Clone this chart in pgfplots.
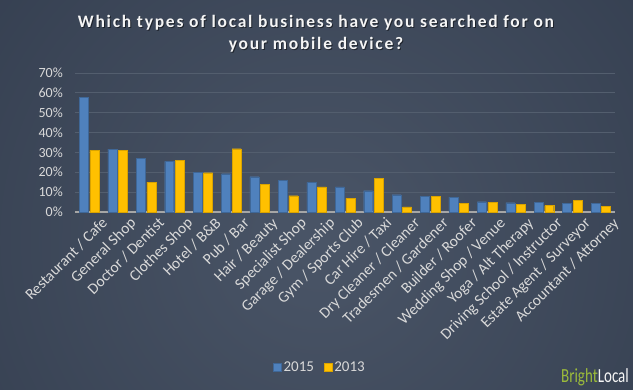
\documentclass[border=0pt]{standalone}
\usepackage{pgfplots}
\pgfplotsset{compat=1.18}
\usepackage{pgfplotstable}
\usepackage{fontspec}
\setmainfont{Carlito}
\newfontfamily\titlefont[LetterSpace=10]{Carlito}
\definecolor{bgin}{HTML}{4A5567}
\definecolor{bgout}{HTML}{2B3546}
\definecolor{cfif}{HTML}{4F81BD}
\definecolor{cthi}{HTML}{FFC000}
\definecolor{txt}{HTML}{D9D9D9}
\definecolor{gridc}{HTML}{535E6E}
\definecolor{axisc}{HTML}{A6A6A6}
\definecolor{logog}{HTML}{9BBB3B}

\pgfplotstableread{
x v15 v13
0 57.9 31.1
1 31.6 31.1
2 27.0 15.1
3 25.5 26.0
4 20.0 19.8
5 19.3 31.9
6 17.8 13.9
7 15.8 8.2
8 14.9 12.7
9 12.6 6.8
10 10.7 16.9
11 8.7 2.6
12 7.9 7.9
13 7.5 4.3
14 5.2 4.9
15 4.7 3.7
16 4.9 3.2
17 4.4 6.0
18 4.4 2.8
}\datatable

\begin{document}
\begin{tikzpicture}[x=1pt,y=1pt]
\useasboundingbox (0,0) rectangle (633,390);
\begin{scope}
\clip (0,0) rectangle (633,390);
\fill[bgout] (0,0) rectangle (633,390);
\shade[inner color=bgin, outer color=bgout] (320,150) circle (640);
\end{scope}
% title
\node[anchor=base, text=black, opacity=0.5, font=\titlefont\bfseries\fontsize{17.5}{20}\selectfont] at (317,361) {Which types of local business have you searched for on};
\node[anchor=base, text=black, opacity=0.5, font=\titlefont\bfseries\fontsize{17.5}{20}\selectfont] at (317,339) {your mobile device?};
\node[anchor=base, text=white!92!gray, font=\titlefont\bfseries\fontsize{17.5}{20}\selectfont] at (316,362) {Which types of local business have you searched for on};
\node[anchor=base, text=white!92!gray, font=\titlefont\bfseries\fontsize{17.5}{20}\selectfont] at (316,340) {your mobile device?};
\begin{axis}[
  at={(75pt,178pt)}, anchor=south west,
  scale only axis, width=540pt, height=139pt,
  xmin=-0.5, xmax=18.5, ymin=0, ymax=70,
  ytick={0,10,...,70},
  yticklabels={0\%,10\%,20\%,30\%,40\%,50\%,60\%,70\%},
  ymajorgrids, grid style={gridc, line width=0.8pt},
  axis x line*=bottom, axis y line*=left,
  y axis line style={draw=none},
  x axis line style={draw=axisc, line width=1.6pt, -},
  major tick length=0pt,
  xtick=data,
  xticklabels={Restaurant / Cafe, General Shop, Doctor / Dentist, Clothes Shop, Hotel / B\&B, Pub / Bar, Hair / Beauty, Specialist Shop, Garage / Dealership, Gym / Sports Club, Car Hire / Taxi, Dry Cleaner / Cleaner, Tradesmen / Gardener, Builder / Roofer, Wedding Shop / Venue, Yoga / Alt Therapy, Driving School / Instructor, Estate Agent / Surveyor, Accountant / Attorney},
  x tick label style={rotate=45, anchor=north east, inner sep=0pt, xshift=5pt, yshift=-11pt, text=txt, font=\fontsize{15.5}{17}\selectfont},
  y tick label style={text=txt, font=\fontsize{14}{16}\selectfont, xshift=-12pt, inner sep=0pt},
  ybar=1.5pt, bar width=9pt,
  legend style={at={(0.4537,-1.115)}, anchor=center, legend columns=2, draw=none, fill=none, text=txt, font=\fontsize{15}{17}\selectfont, /tikz/every even column/.append style={column sep=8pt}},
  legend image code/.code={\fill[#1] (0pt,-4pt) rectangle (8pt,4pt);},
  clip=false,
]
\addplot[fill=cfif, draw=cfif!80!black, line width=0.3pt] table[x=x, y=v15] {\datatable};
\addplot[fill=cthi, draw=cthi!85!black, line width=0.3pt] table[x=x, y=v13] {\datatable};
\legend{2015, 2013}
\end{axis}
\node[anchor=base west, font=\fontsize{20}{22}\selectfont, xscale=0.75, inner sep=0pt] at (561,7) {\textcolor{logog}{Bright}\textcolor{white!92!gray}{Local}};
\end{tikzpicture}
\end{document}
